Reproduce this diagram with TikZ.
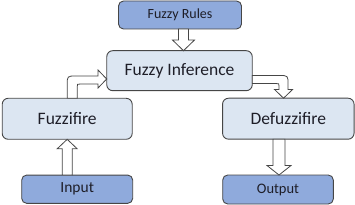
\documentclass[tikz,border=0pt]{standalone}
\usepackage{fontspec}
\setmainfont{Carlito}
\definecolor{lightbox}{HTML}{DCE6F2}
\definecolor{darkbox}{HTML}{8FAADC}
\definecolor{edge}{HTML}{464646}
\definecolor{txt}{HTML}{1E1E28}
\tikzset{
  procbox/.style={draw=edge, line width=0.9pt, fill=lightbox, rounded corners=6pt,
    inner sep=0pt, outer sep=0pt, text=txt, font=\fontsize{17.5}{20}\selectfont},
  iobox/.style={draw=edge, line width=0.9pt, fill=darkbox, rounded corners=5pt,
    inner sep=0pt, outer sep=0pt, text=txt},
  barrow/.style={draw=edge, line width=0.8pt, fill=white, line join=miter}
}
\begin{document}
\begin{tikzpicture}[x=1pt, y=-1pt]
\useasboundingbox (0,0) rectangle (355,205);
\node[iobox, minimum width=123pt, minimum height=28pt, font=\fontsize{14}{16}\selectfont] (rules) at (180,15) {Fuzzy Rules};
\node[procbox, minimum width=145.5pt, minimum height=40pt] (inf) at (179.5,70.7) {Fuzzy Inference};
\node[procbox, minimum width=130pt, minimum height=41pt] (fuzz) at (67.2,118.8) {Fuzzifire};
\node[procbox, minimum width=131.5pt, minimum height=41pt] (defuzz) at (288.3,118.7) {Defuzzifire};
\node[iobox, minimum width=111pt, minimum height=28.3pt, font=\fontsize{15.5}{18}\selectfont] (input) at (77.2,189.2) {Input};
\node[iobox, minimum width=110.6pt, minimum height=29pt, font=\fontsize{14.5}{17}\selectfont] (output) at (278,189.5) {Output};
% Fuzzy Rules -> Fuzzy Inference
\begin{scope}[shift={(rules.south)}]
\draw[barrow] (-1.5,0) -- (8.5,0) -- (8.5,11) -- (14.5,11) -- (3.5,21.7) -- (-7.5,11) -- (-1.5,11) -- cycle;
\end{scope}
% Input -> Fuzzifire
\begin{scope}[shift={(fuzz.south)}]
\draw[barrow] (0,0) -- (10,9.5) -- (5,9.5) -- (5,35.7) -- (-5,35.7) -- (-5,9.5) -- (-10,9.5) -- cycle;
\end{scope}
% Defuzzifire -> Output
\begin{scope}[shift={(defuzz.south)}]
\draw[barrow] (-15.3,0) -- (-3.3,0) -- (-3.3,26.3) -- (2.7,26.3) -- (-9.3,35.8) -- (-21.3,26.3) -- (-15.3,26.3) -- cycle;
\end{scope}
% Fuzzifire -> Fuzzy Inference (bent)
\begin{scope}[shift={(fuzz.north)}]
\draw[barrow] (0,0) -- (0,-13.3) .. controls (0,-22.3) .. (9,-22.3) -- (30.8,-22.3) -- (30.8,-28.3) -- (39.5,-19.3) -- (30.8,-10.3) -- (30.8,-14.3) -- (13,-14.3) .. controls (10,-14.3) .. (10,-11.3) -- (10,0) -- cycle;
\end{scope}
% Fuzzy Inference -> Defuzzifire (bent)
\begin{scope}[shift={(inf.east)}]
\draw[barrow] (0,4.8) -- (26.8,4.8) .. controls (35.8,4.8) .. (35.8,13.8) -- (35.8,18.8) -- (40.3,18.8) -- (31.3,27.5) -- (22.3,18.8) -- (26.8,18.8) -- (26.8,15.8) .. controls (26.8,12.8) .. (23.8,12.8) -- (0,12.8) -- cycle;
\end{scope}
\end{tikzpicture}
\end{document}
